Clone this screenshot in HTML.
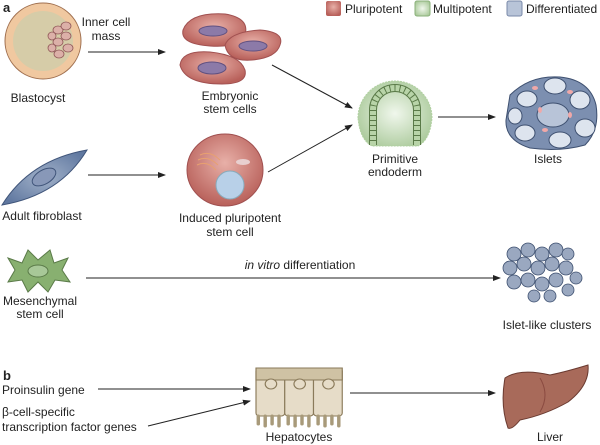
<!DOCTYPE html>
<html><head><meta charset="utf-8"><style>
html,body{margin:0;padding:0;background:#fff;}
svg{display:block;font-family:"Liberation Sans",sans-serif;}
text{font-size:12px;fill:#222;}
</style></head><body>
<svg width="600" height="445" viewBox="0 0 600 445" xmlns="http://www.w3.org/2000/svg">
<defs>
<marker id="ah" markerWidth="8" markerHeight="6" refX="7" refY="3" orient="auto" markerUnits="userSpaceOnUse"><path d="M0,0 L8,3 L0,6 Z" fill="#222"/></marker>
<radialGradient id="pr" cx="0.5" cy="0.4" r="0.6"><stop offset="0" stop-color="#e8b0a8"/><stop offset="1" stop-color="#b8605a"/></radialGradient>
<radialGradient id="gr" cx="0.5" cy="0.5" r="0.6"><stop offset="0" stop-color="#f0f7ec"/><stop offset="1" stop-color="#a8c898"/></radialGradient>
<radialGradient id="bl" cx="0.5" cy="0.5" r="0.6"><stop offset="0" stop-color="#a0b0c8"/><stop offset="1" stop-color="#6078a0"/></radialGradient>
</defs>
<text x="3" y="12" style="font-weight:bold;font-size:13px">a</text>
<!-- legend -->
<rect x="326" y="1" width="15" height="15" rx="2" fill="url(#pr)"/><text x="345" y="13">Pluripotent</text>
<rect x="415" y="1" width="15" height="15" rx="2" fill="url(#gr)" stroke="#8ab07a"/><text x="433" y="13">Multipotent</text>
<rect x="507" y="1" width="15" height="15" rx="2" fill="#b8c4d8" stroke="#7888a8"/><text x="526" y="13">Differentiated</text>
<!-- blastocyst -->
<circle cx="43" cy="41" r="38" fill="#f0c8a0" stroke="#a07050"/>
<circle cx="43" cy="41" r="30" fill="#d6cca8"/>
<g fill="#dcb0a8" stroke="#905858" stroke-width="0.8">
<ellipse cx="58" cy="30" rx="5" ry="4"/><ellipse cx="66" cy="36" rx="5" ry="4"/><ellipse cx="58" cy="42" rx="5" ry="4"/><ellipse cx="68" cy="48" rx="5" ry="4"/><ellipse cx="59" cy="54" rx="5" ry="4"/><ellipse cx="66" cy="26" rx="5" ry="4"/><ellipse cx="52" cy="48" rx="4" ry="4"/><ellipse cx="52" cy="36" rx="4" ry="4"/>
</g>
<text x="38" y="102" text-anchor="middle">Blastocyst</text>
<text x="106" y="26" text-anchor="middle">Inner cell</text><text x="106" y="40" text-anchor="middle">mass</text>
<line x1="88" y1="52" x2="165" y2="52" stroke="#222" marker-end="url(#ah)"/>
<!-- ES cells -->
<g stroke="#a05050" fill="url(#pr)">
<path d="M183,30 Q190,12 225,14 Q250,18 245,35 Q240,48 210,46 Q180,44 183,30Z"/>
<path d="M225,45 Q230,32 260,30 Q285,32 280,45 Q276,58 252,60 Q228,62 225,45Z"/>
<path d="M180,65 Q182,50 210,52 Q240,55 245,70 Q248,84 222,84 Q185,84 180,65Z"/>
</g>
<g fill="#8c7aa8" stroke="#605080"><ellipse cx="213" cy="31" rx="14" ry="5"/><ellipse cx="253" cy="46" rx="14" ry="5"/><ellipse cx="212" cy="68" rx="14" ry="6"/></g>
<text x="230" y="100" text-anchor="middle">Embryonic</text><text x="230" y="113" text-anchor="middle">stem cells</text>
<line x1="272" y1="65" x2="352" y2="108" stroke="#222" marker-end="url(#ah)"/>
<!-- fibroblast -->
<path d="M2,205 Q30,160 87,150 Q60,195 2,205Z" fill="url(#bl)" stroke="#40557a"/>
<ellipse cx="44" cy="177" rx="13" ry="7" transform="rotate(-30 44 177)" fill="#8898b8" stroke="#40557a"/>
<text x="42" y="220" text-anchor="middle">Adult fibroblast</text>
<line x1="88" y1="175" x2="165" y2="175" stroke="#222" marker-end="url(#ah)"/>
<!-- iPS -->
<ellipse cx="225" cy="170" rx="38" ry="36" fill="url(#pr)" stroke="#a05050"/>
<circle cx="230" cy="185" r="14" fill="#b8d0e8" stroke="#8ab"/>
<ellipse cx="243" cy="162" rx="7" ry="3" fill="#e8d0d0"/>
<path d="M200,155 Q210,150 220,160 M198,160 Q208,155 218,165 M197,165 Q207,160 216,170" stroke="#e8a070" fill="none"/>
<text x="230" y="222" text-anchor="middle">Induced pluripotent</text><text x="230" y="236" text-anchor="middle">stem cell</text>
<line x1="268" y1="172" x2="352" y2="125" stroke="#222" marker-end="url(#ah)"/>
<!-- endoderm -->
<path d="M358,118 A37,37 0 1 1 432,118 Q430,140 418,146 L372,146 Q360,140 358,118Z" fill="url(#gr)" stroke="#b0d0a0" stroke-dasharray="2,1"/>
<path d="M373,145 L373,110 A22,22 0 0 1 417,110 L417,145" fill="none" stroke="#5a7a48" stroke-width="8"/>
<path d="M373,145 L373,110 A22,22 0 0 1 417,110 L417,145" fill="none" stroke="#b8d4a8" stroke-width="6" stroke-dasharray="4,1"/>
<text x="395" y="163" text-anchor="middle">Primitive</text><text x="395" y="176" text-anchor="middle">endoderm</text>
<line x1="438" y1="117" x2="495" y2="117" stroke="#222" marker-end="url(#ah)"/>
<!-- islets -->
<path d="M510,95 Q530,75 560,77 Q590,80 596,105 Q600,130 585,145 Q560,152 530,148 Q505,140 506,120Z" fill="#7c8fb0" stroke="#3e5070"/>
<g fill="#dde4ee" stroke="#3e5070"><ellipse cx="527" cy="99" rx="10" ry="8"/><ellipse cx="555" cy="86" rx="11" ry="8"/><ellipse cx="580" cy="100" rx="10" ry="9"/><ellipse cx="585" cy="128" rx="10" ry="9"/><ellipse cx="560" cy="140" rx="11" ry="8"/><ellipse cx="525" cy="133" rx="10" ry="8"/><ellipse cx="515" cy="116" rx="7" ry="8"/><ellipse cx="553" cy="115" rx="16" ry="12" fill="#b8c4d8"/></g>
<g fill="#f0a8a8"><ellipse cx="540" cy="110" rx="2" ry="3"/><ellipse cx="570" cy="115" rx="2" ry="3"/><ellipse cx="545" cy="130" rx="3" ry="2"/><ellipse cx="570" cy="92" rx="3" ry="2"/><ellipse cx="535" cy="88" rx="3" ry="2"/></g>
<text x="548" y="163" text-anchor="middle">Islets</text>
<!-- mesenchymal -->
<path d="M8,258 L22,263 L28,250 L38,260 L50,250 L54,263 L68,258 L62,270 L70,282 L55,280 L48,292 L38,282 L28,292 L22,280 L8,282 L15,270Z" fill="#88b070" stroke="#5a7a48"/>
<ellipse cx="38" cy="271" rx="10" ry="6" fill="#a8c898" stroke="#5a7a48"/>
<text x="40" y="305" text-anchor="middle">Mesenchymal</text><text x="40" y="318" text-anchor="middle">stem cell</text>
<line x1="86" y1="278" x2="500" y2="278" stroke="#222" marker-end="url(#ah)"/>
<text x="300" y="269" text-anchor="middle"><tspan font-style="italic">in vitro</tspan> differentiation</text>
<!-- islet-like clusters -->
<g fill="#9aa8c0" stroke="#3e5070" stroke-width="0.8" transform="translate(62,-8)">
<circle cx="452" cy="262" r="7"/><circle cx="466" cy="258" r="7"/><circle cx="480" cy="262" r="7"/><circle cx="494" cy="258" r="7"/><circle cx="506" cy="262" r="6"/>
<circle cx="448" cy="276" r="7"/><circle cx="462" cy="272" r="7"/><circle cx="476" cy="276" r="7"/><circle cx="490" cy="272" r="7"/><circle cx="504" cy="276" r="7"/><circle cx="514" cy="286" r="6"/>
<circle cx="452" cy="290" r="7"/><circle cx="466" cy="288" r="7"/><circle cx="480" cy="292" r="7"/><circle cx="494" cy="288" r="7"/><circle cx="506" cy="298" r="6"/><circle cx="472" cy="304" r="6"/><circle cx="488" cy="304" r="6"/>
</g>
<text x="547" y="329" text-anchor="middle">Islet-like clusters</text>
<!-- b -->
<text x="3" y="380" style="font-weight:bold;font-size:13px">b</text>
<text x="2" y="394">Proinsulin gene</text>
<text x="2" y="416">β-cell-specific</text>
<text x="2" y="431">transcription factor genes</text>
<line x1="98" y1="389" x2="250" y2="389" stroke="#222" marker-end="url(#ah)"/>
<line x1="148" y1="426" x2="250" y2="401" stroke="#222" marker-end="url(#ah)"/>
<!-- hepatocytes -->
<g transform="translate(256,-2) scale(1.15,1)">
<g fill="#e6dcc8" stroke="#8a7a5a">
<rect x="0" y="370" width="25" height="48" rx="3"/><rect x="25" y="370" width="25" height="48" rx="3"/><rect x="50" y="370" width="25" height="48" rx="3"/>
<rect x="0" y="370" width="75" height="12" fill="#cfc2a4"/>
<circle cx="13" cy="386" r="5"/><circle cx="38" cy="386" r="5"/><circle cx="63" cy="386" r="5"/>
</g>
<path d="M2,418 v8 M8,418 v10 M14,418 v8 M20,418 v10 M28,418 v8 M34,418 v10 M40,418 v8 M46,418 v10 M54,418 v8 M60,418 v10 M66,418 v8 M72,418 v10" stroke="#a89a7a" stroke-width="3" stroke-linecap="round"/>
</g>
<text x="299" y="441" text-anchor="middle">Hepatocytes</text>
<line x1="350" y1="393" x2="495" y2="393" stroke="#222" marker-end="url(#ah)"/>
<!-- liver -->
<g transform="translate(50,0)">
<path d="M455,378 Q470,368 500,375 Q515,372 538,365 Q540,385 518,402 Q495,415 470,420 Q462,430 458,428 Q450,405 455,378Z" fill="#a86a5a" stroke="#6a3a30"/>
<path d="M490,378 Q500,395 490,412" fill="none" stroke="#8a4a40"/>
</g>
<text x="550" y="441" text-anchor="middle">Liver</text>
</svg>
</body></html>
